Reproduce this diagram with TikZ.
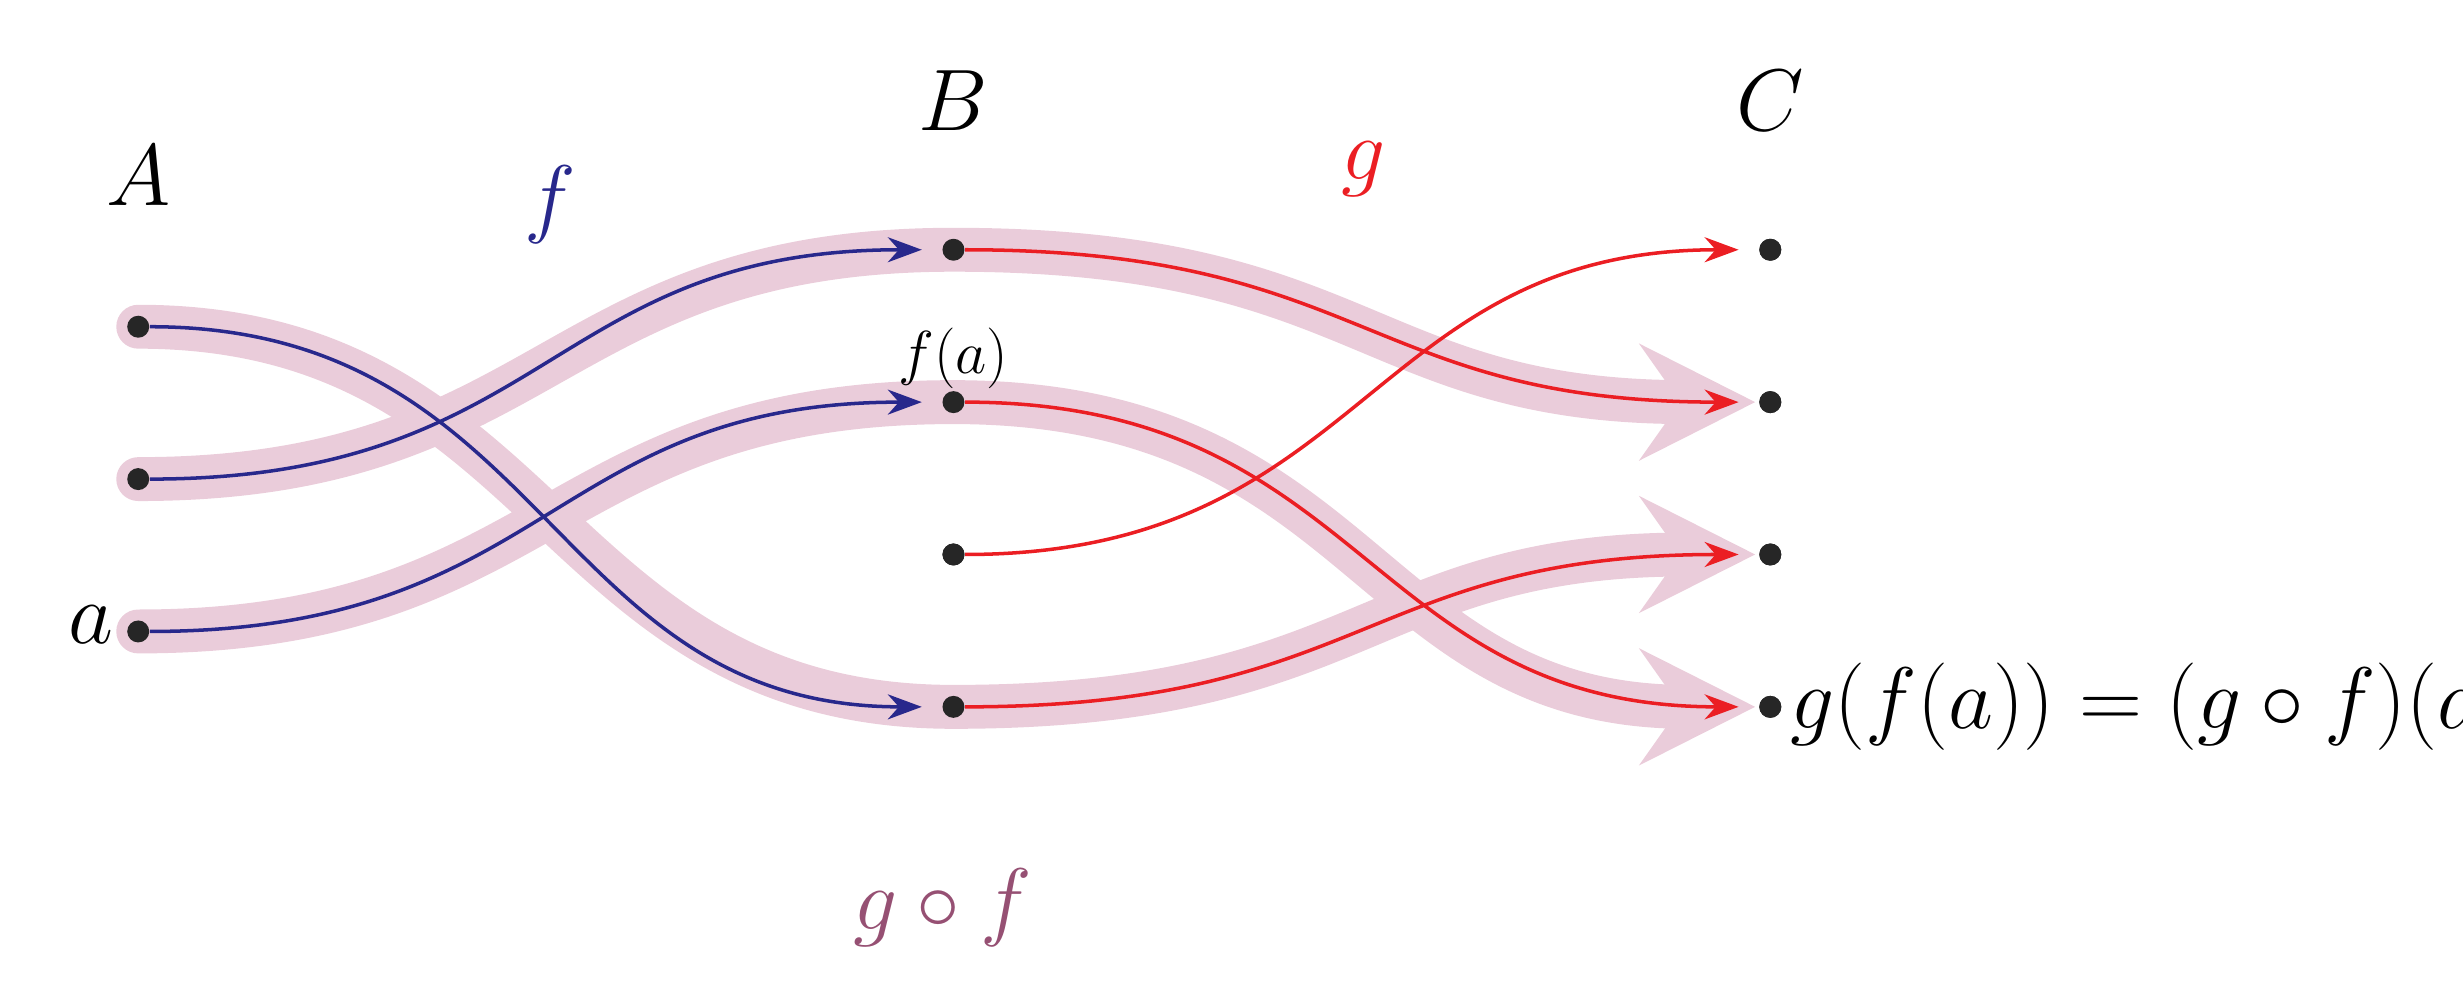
\documentclass[tikz,border=0pt]{standalone}
\usetikzlibrary{arrows.meta}
\definecolor{pinkc}{RGB}{234,204,218}
\definecolor{bluec}{RGB}{40,40,140}
\definecolor{redc}{RGB}{235,30,35}
\definecolor{purp}{RGB}{150,80,115}
\begin{document}
\begin{tikzpicture}[x=0.01571cm,y=-0.01571cm,
 dot/.style={circle,fill=black!85,inner sep=0pt,minimum size=0.22cm},
 lbl/.style={font=\fontsize{28}{32}\selectfont},
 comp/.style={pinkc,line width=12.5pt,line cap=round,-{Stealth[length=1.15cm,width=1.15cm,inset=0.4cm]},shorten >=0.15cm},
 fmap/.style={bluec,line width=1pt,-{Stealth[length=0.34cm,width=0.25cm]},shorten >=0.2cm},
 gmap/.style={redc,line width=1pt,-{Stealth[length=0.34cm,width=0.25cm]},shorten >=0.2cm}]
\useasboundingbox (0,0) rectangle (1568,640);
\node[dot] (a1) at (88,208) {};
\node[dot] (a2) at (88,305) {};
\node[dot] (a3) at (88,402) {};
\node[dot] (b1) at (607,159) {};
\node[dot] (b2) at (607,256) {};
\node[dot] (b3) at (607,353) {};
\node[dot] (b4) at (607,450) {};
\node[dot] (c1) at (1127,159) {};
\node[dot] (c2) at (1127,256) {};
\node[dot] (c3) at (1127,353) {};
\node[dot] (c4) at (1127,450) {};
\draw[comp] (a1.center) .. controls (350,208) and (350,450) .. (b4.center) .. controls (870,450) and (870,353) .. (c3.center);
\draw[comp] (a2.center) .. controls (350,305) and (350,159) .. (b1.center) .. controls (870,159) and (870,256) .. (c2.center);
\draw[comp] (a3.center) .. controls (350,402) and (350,256) .. (b2.center) .. controls (870,256) and (870,450) .. (c4.center);
\draw[fmap] (a1) .. controls (350,208) and (350,450) .. (b4);
\draw[fmap] (a2) .. controls (350,305) and (350,159) .. (b1);
\draw[fmap] (a3) .. controls (350,402) and (350,256) .. (b2);
\draw[gmap] (b1) .. controls (870,159) and (870,256) .. (c2);
\draw[gmap] (b2) .. controls (870,256) and (870,450) .. (c4);
\draw[gmap] (b3) .. controls (870,353) and (870,159) .. (c1);
\draw[gmap] (b4) .. controls (870,450) and (870,353) .. (c3);
\node[dot] at (a1) {};\node[dot] at (a2) {};\node[dot] at (a3) {};
\node[dot] at (b1) {};\node[dot] at (b2) {};\node[dot] at (b3) {};\node[dot] at (b4) {};
\node[dot] at (c1) {};\node[dot] at (c2) {};\node[dot] at (c3) {};\node[dot] at (c4) {};
\node[lbl] (lA) at (88,112) {$A$};
\node[lbl] (lB) at (607,64) {$B$};
\node[lbl] (lC) at (1127,64) {$C$};
\node[lbl,text=bluec] (lf) at (350,130) {$f$};
\node[lbl,text=redc] (lg) at (868,108) {$g$};
\node[font=\fontsize{17}{20}\selectfont] (lfa) at (607,228) {$f(a)$};
\node[lbl] (la) at (58,398) {$a$};
\node[lbl,text=purp] (lgf) at (600,578) {$g\circ f$};
\node[font=\fontsize{24}{28}\selectfont,anchor=west,inner sep=2pt] (lgfa) at (1135,450) {$g(f(a))=(g\circ f)(a)$};
\end{tikzpicture}
\end{document}
